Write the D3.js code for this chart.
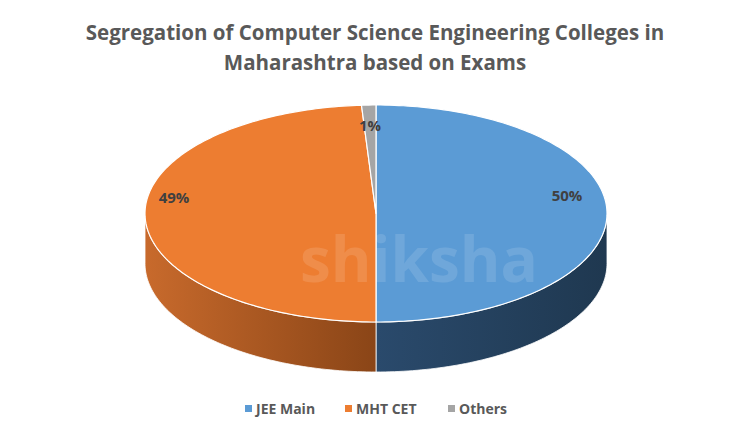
<!DOCTYPE html>
<html><head><meta charset="utf-8">
<script src="https://cdn.jsdelivr.net/npm/d3@7"></script>
<style>body{margin:0;background:#fff}</style></head>
<body><svg id="c" width="750" height="423"></svg>
<script>
const categories = ["JEE Main","MHT CET","Others"];
const values = [50,49,1];
const labels = ["50%","49%","1%"];
const topColors = ["#5b9bd5","#ed7d31","#a5a5a5"];
const sideColors = [["#2a4a6c","#1f3850"],["#c86a2c","#8a4517"],["#888","#777"]];

const svg = d3.select("#c");
const W=750, cx=376, cy=213.5, rx=231, ry=108.5, depth=50;
const defs = svg.append("defs");
sideColors.forEach((c,i)=>{
  const g=defs.append("linearGradient").attr("id","g"+i).attr("x1","0").attr("x2","1");
  g.append("stop").attr("offset","0").attr("stop-color",c[0]);
  g.append("stop").attr("offset","1").attr("stop-color",c[1]);
});
svg.append("text").attr("x",W/2).attr("y",40).attr("text-anchor","middle")
  .attr("font-family","Open Sans, sans-serif").attr("font-weight","bold").attr("font-size",20.5).attr("fill","#595959")
  .text("Segregation of Computer Science Engineering Colleges in");
svg.append("text").attr("x",W/2).attr("y",70).attr("text-anchor","middle")
  .attr("font-family","Open Sans, sans-serif").attr("font-weight","bold").attr("font-size",20.5).attr("fill","#595959")
  .text("Maharashtra based on Exams");

const arcs = d3.pie().sort(null).value(d=>d)(values);
const px = t=>cx+rx*Math.sin(t), py=(t,dz=0)=>cy-ry*Math.cos(t)+dz;
function ellPts(a,b,dz){const n=Math.max(2,Math.ceil((b-a)/0.02));return d3.range(n+1).map(k=>{const t=a+(b-a)*k/n;return [px(t),py(t,dz)];});}

arcs.forEach((a,i)=>{
  const s=Math.max(a.startAngle,Math.PI/2), e=Math.min(a.endAngle,1.5*Math.PI);
  if(e<=s) return;
  const pts=ellPts(s,e,0).concat(ellPts(s,e,depth).reverse());
  svg.append("path").attr("d",d3.line()(pts)+"Z").attr("fill",`url(#g${i})`)
    .attr("stroke","#fff").attr("stroke-width",0.8);
});
arcs.forEach((a,i)=>{
  const pts=[[cx,cy]].concat(ellPts(a.startAngle,a.endAngle,0));
  svg.append("path").attr("d",d3.line()(pts)+"Z").attr("fill",topColors[i])
    .attr("stroke","#fff").attr("stroke-width",1.2).attr("stroke-linejoin","round");
});
svg.append("text").attr("x",300).attr("y",282).attr("font-family","Open Sans, sans-serif").attr("font-weight","bold")
  .attr("font-size",62).attr("fill","#fff").attr("opacity",0.12).text("shiksha");

const labPos=[[567,196],[174,198],[370,126]];
arcs.forEach((a,i)=>{
  svg.append("text").attr("x",labPos[i][0]).attr("y",labPos[i][1]+5).attr("text-anchor","middle")
    .attr("font-family","Open Sans, sans-serif").attr("font-weight","bold").attr("font-size",15).attr("fill","#404040").text(labels[i]);
});
const lx=[245,345,448];
categories.forEach((c,i)=>{
  const g=svg.append("g").attr("transform",`translate(${lx[i]},409)`);
  g.append("rect").attr("x",0).attr("y",-4).attr("width",7).attr("height",7).attr("fill",topColors[i]);
  g.append("text").attr("x",11).attr("y",5).attr("font-family","Open Sans, sans-serif").attr("font-weight","bold")
    .attr("font-size",14).attr("fill","#595959").text(c);
});
</script></body></html>
